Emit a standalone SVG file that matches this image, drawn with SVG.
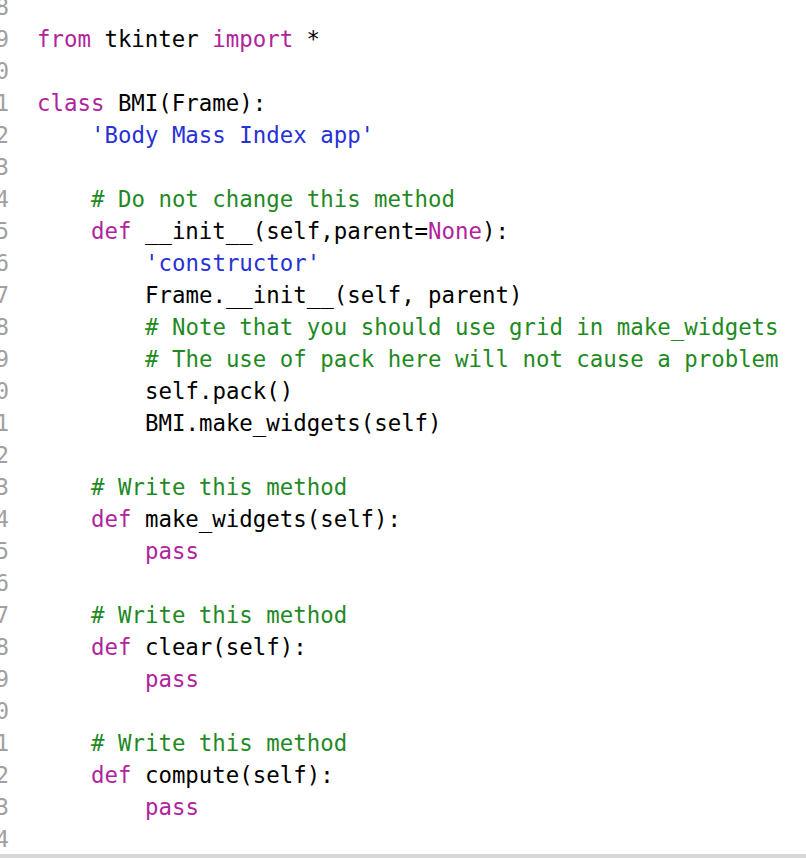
<svg xmlns="http://www.w3.org/2000/svg" width="806" height="858" viewBox="0 0 806 858">
<style>
text{font-family:"DejaVu Sans Mono","Liberation Mono",monospace;font-size:22.4px;fill:#000;white-space:pre}
.n{fill:#a0a0a0;text-anchor:end}
.k{fill:#b0249b}
.s{fill:#2631d6}
.c{fill:#1f8a1f}
</style>
<rect width="806" height="858" fill="#fff"/>
<g id="gutter">
<text class="n" x="9" y="15">8</text>
<text class="n" x="9" y="47">9</text>
<text class="n" x="9" y="79">0</text>
<text class="n" x="9" y="111">1</text>
<text class="n" x="9" y="143">2</text>
<text class="n" x="9" y="175">3</text>
<text class="n" x="9" y="207">4</text>
<text class="n" x="9" y="239">5</text>
<text class="n" x="9" y="271">6</text>
<text class="n" x="9" y="303">7</text>
<text class="n" x="9" y="335">8</text>
<text class="n" x="9" y="367">9</text>
<text class="n" x="9" y="399">0</text>
<text class="n" x="9" y="431">1</text>
<text class="n" x="9" y="463">2</text>
<text class="n" x="9" y="495">3</text>
<text class="n" x="9" y="527">4</text>
<text class="n" x="9" y="559">5</text>
<text class="n" x="9" y="591">6</text>
<text class="n" x="9" y="623">7</text>
<text class="n" x="9" y="655">8</text>
<text class="n" x="9" y="687">9</text>
<text class="n" x="9" y="719">0</text>
<text class="n" x="9" y="751">1</text>
<text class="n" x="9" y="783">2</text>
<text class="n" x="9" y="815">3</text>
<text class="n" x="9" y="847">4</text>
</g>
<g id="code">
<text x="37" y="47"><tspan class="k">from</tspan> tkinter <tspan class="k">import</tspan> *</text>
<text x="37" y="111"><tspan class="k">class</tspan> BMI(Frame):</text>
<text x="91" y="143" class="s">'Body Mass Index app'</text>
<text x="91" y="207" class="c"># Do not change this method</text>
<text x="91" y="239"><tspan class="k">def</tspan> __init__(self,parent=<tspan class="k">None</tspan>):</text>
<text x="145" y="271" class="s">'constructor'</text>
<text x="145" y="303">Frame.__init__(self, parent)</text>
<text x="145" y="335" class="c"># Note that you should use grid in make_widgets</text>
<text x="145" y="367" class="c"># The use of pack here will not cause a problem</text>
<text x="145" y="399">self.pack()</text>
<text x="145" y="431">BMI.make_widgets(self)</text>
<text x="91" y="495" class="c"># Write this method</text>
<text x="91" y="527"><tspan class="k">def</tspan> make_widgets(self):</text>
<text x="145" y="559" class="k">pass</text>
<text x="91" y="623" class="c"># Write this method</text>
<text x="91" y="655"><tspan class="k">def</tspan> clear(self):</text>
<text x="145" y="687" class="k">pass</text>
<text x="91" y="751" class="c"># Write this method</text>
<text x="91" y="783"><tspan class="k">def</tspan> compute(self):</text>
<text x="145" y="815" class="k">pass</text>
</g>
<rect x="0" y="854" width="806" height="4" fill="#d8d8d8"/>
</svg>
